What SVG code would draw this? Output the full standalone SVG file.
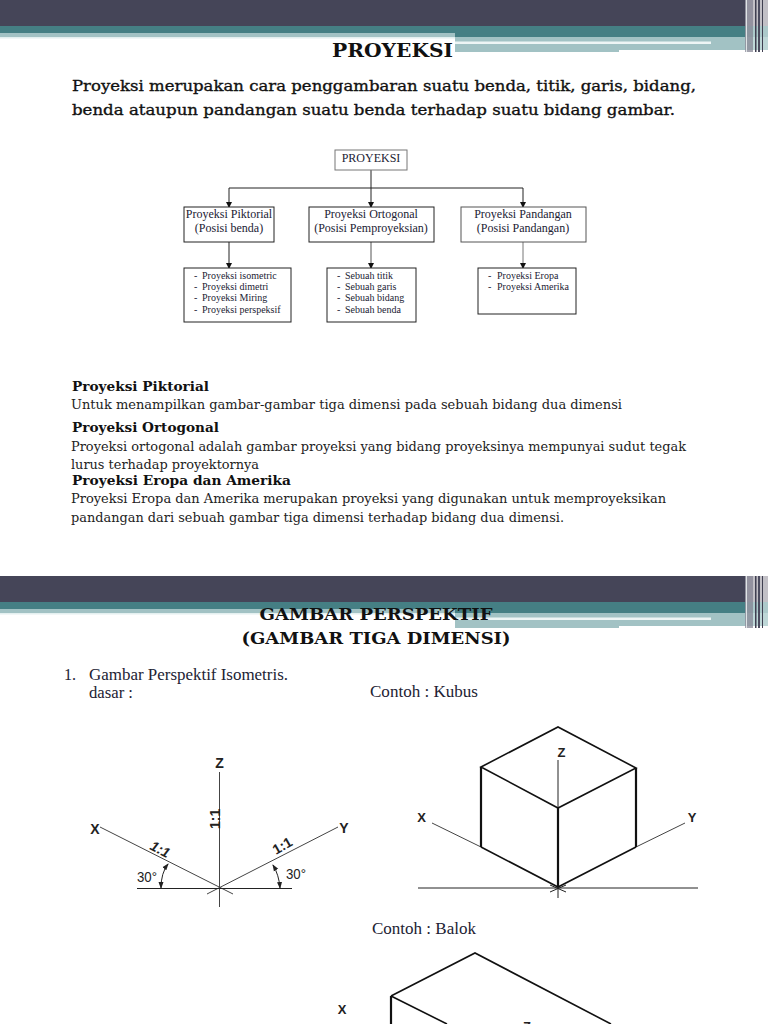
<svg xmlns="http://www.w3.org/2000/svg" width="768" height="1024" viewBox="0 0 768 1024">
<style>
.bt{font-family:"DejaVu Serif","Liberation Serif",serif;font-weight:bold;fill:#111}
.lead{font-family:"DejaVu Serif","Liberation Serif",serif;font-size:15.500px;fill:#111;stroke:#111;stroke-width:.35}
.h{font-family:"DejaVu Serif","Liberation Serif",serif;font-size:13.500px;font-weight:bold;fill:#111}
.p{font-family:"DejaVu Serif","Liberation Serif",serif;font-size:13px;fill:#222}
.ser{font-family:"Liberation Serif",serif;fill:#223}
.box{fill:#fff;stroke:#222;stroke-width:1}
.ln{stroke:#222;stroke-width:1;fill:none}
.ax{stroke:#444;stroke-width:1;fill:none}
.thick{stroke:#111;stroke-width:1.600;fill:none}
.heavy{stroke:#111;stroke-width:2.200;fill:none}
.lab{font-family:"Liberation Sans",sans-serif;font-weight:bold;fill:#222}
.num{font-family:"Liberation Sans",sans-serif;fill:#222}
</style>
<defs>
<marker id="arr" markerWidth="6" markerHeight="6" refX="5" refY="3" orient="auto"><path d="M0,0L6,3L0,6z" fill="#111"/></marker>
<marker id="sm" markerWidth="7" markerHeight="6" refX="6" refY="3" orient="auto-start-reverse"><path d="M0,0.500L7,3L0,5.500z" fill="#222"/></marker>
<g id="band">
<rect x="0" y="0" width="768" height="26" fill="#454558"/>
<rect x="0" y="26" width="768" height="11" fill="#457f84"/>
<rect x="455" y="37" width="164" height="15" fill="#a2c2c4"/>
<rect x="619" y="37" width="149" height="13" fill="#a2c2c4"/>
<rect x="455" y="41.500" width="256" height="2.500" fill="#eef5f5"/>
<rect x="0" y="33" width="455" height="4" fill="#a2c2c4"/>
<rect x="0" y="37" width="455" height="1.500" fill="#e4f0f0"/>
<rect x="745" y="0" width="23" height="26" fill="#c2c0c6"/>
<rect x="745" y="26" width="23" height="24" fill="#c6dcdc" opacity=".8"/>
<rect x="745" y="0" width="8" height="52" fill="#7f7f8e" opacity=".7"/>
<rect x="746" y="0" width="1" height="52" fill="#dfe4e6"/>
<rect x="755" y="0" width="1.500" height="52" fill="#3f3f50"/>
<rect x="758" y="0" width="2" height="52" fill="#4c4c5f"/>
<rect x="762" y="0" width="1" height="52" fill="#3f3f50"/>
</g>
</defs>

<rect width="768" height="1024" fill="#fff"/>
<use href="#band"/>
<use href="#band" y="576"/>

<text class="bt" x="392.500" y="57" font-size="18" text-anchor="middle" textLength="121" lengthAdjust="spacingAndGlyphs">PROYEKSI</text>
<text class="lead" x="72" y="91" textLength="624" lengthAdjust="spacingAndGlyphs">Proyeksi merupakan cara penggambaran suatu benda, titik, garis, bidang,</text>
<text class="lead" x="72" y="115" textLength="603" lengthAdjust="spacingAndGlyphs">benda ataupun pandangan suatu benda terhadap suatu bidang gambar.</text>

<g id="connectors">
<path class="ln" d="M371 170V207" marker-end="url(#arr)"/>
<path class="ln" d="M371 188H229V207" marker-end="url(#arr)"/>
<path class="ln" d="M371 188H523V207" marker-end="url(#arr)"/>
<path class="ln" d="M229 242V268" marker-end="url(#arr)"/>
<path class="ln" d="M371 242V268" style="stroke:#555" marker-end="url(#arr)"/>
<path class="ln" d="M523 242V268" style="stroke:#777" marker-end="url(#arr)"/>
</g>

<g id="n-proyeksi"><rect class="box" x="335" y="150" width="72" height="20" style="stroke:#777"/><text class="ser" x="371" y="162" font-size="12" text-anchor="middle">PROYEKSI</text></g>
<g id="n-piktorial"><rect class="box" x="184" y="207" width="90" height="35"/><text class="ser" x="229" y="218" font-size="12" text-anchor="middle">Proyeksi Piktorial</text><text class="ser" x="229" y="232" font-size="12" text-anchor="middle">(Posisi benda)</text></g>
<g id="n-ortogonal"><rect class="box" x="309" y="207" width="125" height="35"/><text class="ser" x="371" y="218" font-size="12" text-anchor="middle">Proyeksi Ortogonal</text><text class="ser" x="371" y="232" font-size="12" text-anchor="middle">(Posisi Pemproyeksian)</text></g>
<g id="n-pandangan"><rect class="box" x="461" y="207" width="125" height="35" style="stroke:#555"/><text class="ser" x="523" y="218" font-size="12" text-anchor="middle">Proyeksi Pandangan</text><text class="ser" x="523" y="232" font-size="12" text-anchor="middle">(Posisi Pandangan)</text></g>
<g id="n-list1" class="ser" font-size="10"><rect class="box" x="184" y="268" width="107" height="54"/>
<text x="194" y="279">-</text><text x="202" y="279">Proyeksi isometric</text>
<text x="194" y="290">-</text><text x="202" y="290">Proyeksi dimetri</text>
<text x="194" y="301">-</text><text x="202" y="301">Proyeksi Miring</text>
<text x="194" y="313">-</text><text x="202" y="313">Proyeksi perspeksif</text></g>
<g id="n-list2" class="ser" font-size="10"><rect class="box" x="327" y="268" width="89" height="54"/>
<text x="337" y="279">-</text><text x="345" y="279">Sebuah titik</text>
<text x="337" y="290">-</text><text x="345" y="290">Sebuah garis</text>
<text x="337" y="301">-</text><text x="345" y="301">Sebuah bidang</text>
<text x="337" y="313">-</text><text x="345" y="313">Sebuah benda</text></g>
<g id="n-list3" class="ser" font-size="10"><rect class="box" x="478" y="268" width="98" height="46"/>
<text x="488" y="279">-</text><text x="497" y="279">Proyeksi Eropa</text>
<text x="488" y="290">-</text><text x="497" y="290">Proyeksi Amerika</text></g>

<text class="h" x="72" y="391" textLength="137" lengthAdjust="spacingAndGlyphs">Proyeksi Piktorial</text>
<text class="p" x="71" y="409" textLength="551" lengthAdjust="spacingAndGlyphs">Untuk menampilkan gambar-gambar tiga dimensi pada sebuah bidang dua dimensi</text>
<text class="h" x="72" y="432" textLength="147" lengthAdjust="spacingAndGlyphs">Proyeksi Ortogonal</text>
<text class="p" x="71" y="451" textLength="615" lengthAdjust="spacingAndGlyphs">Proyeksi ortogonal adalah gambar proyeksi yang bidang proyeksinya mempunyai sudut tegak</text>
<text class="p" x="71" y="469" textLength="188" lengthAdjust="spacingAndGlyphs">lurus terhadap proyektornya</text>
<text class="h" x="72" y="485" textLength="219" lengthAdjust="spacingAndGlyphs">Proyeksi Eropa dan Amerika</text>
<text class="p" x="71" y="503" textLength="595" lengthAdjust="spacingAndGlyphs">Proyeksi Eropa dan Amerika merupakan proyeksi yang digunakan untuk memproyeksikan</text>
<text class="p" x="71" y="522" textLength="493" lengthAdjust="spacingAndGlyphs">pandangan dari sebuah gambar tiga dimensi terhadap bidang dua dimensi.</text>

<text class="bt" x="376" y="620" font-size="16" text-anchor="middle" textLength="233" lengthAdjust="spacingAndGlyphs">GAMBAR PERSPEKTIF</text>
<text class="bt" x="376" y="644" font-size="16" text-anchor="middle" textLength="269" lengthAdjust="spacingAndGlyphs">(GAMBAR TIGA DIMENSI)</text>
<text class="ser" x="64" y="680" font-size="16">1.</text>
<text class="ser" x="89" y="680" font-size="16" textLength="199" lengthAdjust="spacingAndGlyphs">Gambar Perspektif Isometris.</text>
<text class="ser" x="89" y="698" font-size="16" textLength="44" lengthAdjust="spacingAndGlyphs">dasar :</text>
<text class="ser" x="370" y="697" font-size="16" textLength="108" lengthAdjust="spacingAndGlyphs">Contoh : Kubus</text>
<text class="ser" x="372" y="934" font-size="16" textLength="104" lengthAdjust="spacingAndGlyphs">Contoh : Balok</text>

<g id="iso-axes">
<path class="ax" d="M219.500 772V907M100 827L233 894M338 827L207 894"/>
<path class="ln" d="M137 888.500H292"/>
<path class="ln" d="M161 888Q161 873 168 864" marker-end="url(#sm)" marker-start="url(#sm)"/>
<path class="ln" d="M280 888Q279 875 273 865" marker-end="url(#sm)" marker-start="url(#sm)"/>
<text class="lab" x="219.500" y="768" font-size="14" text-anchor="middle">Z</text>
<text class="lab" x="95" y="834" font-size="14" text-anchor="middle">X</text>
<text class="lab" x="344" y="833" font-size="14" text-anchor="middle">Y</text>
<text class="lab" font-size="14" transform="translate(220,829) rotate(-90)">1:1</text>
<text class="lab" font-size="14" transform="translate(149,849) rotate(27)" font-style="italic">1:1</text>
<text class="lab" font-size="14" transform="translate(276,855) rotate(-30)">1:1</text>
<text class="num" x="137" y="882" font-size="14" textLength="20" lengthAdjust="spacingAndGlyphs">30°</text>
<text class="num" x="286" y="879" font-size="14" textLength="20" lengthAdjust="spacingAndGlyphs">30°</text>
</g>

<g id="kubus">
<path class="ax" d="M432 823L481 847M685 823L636 847"/>
<path class="ln" d="M418 888H698M558 760V898M550 885L566 892M566 885L550 892"/>
<path class="thick" d="M481 767L558 727L636 768L558 808ZM481 847L558 887L636 847"/>
<path class="heavy" d="M481 767V847M636 768V847M558 808V887"/>
<text class="lab" x="561.500" y="757" font-size="13" text-anchor="middle">Z</text>
<text class="lab" x="421.500" y="822" font-size="13" text-anchor="middle">X</text>
<text class="lab" x="692" y="822" font-size="13" text-anchor="middle">Y</text>
</g>

<g id="balok">
<path class="thick" d="M391 996L475 953L611 1024M391 996L447 1024"/>
<path class="heavy" d="M391 996V1024"/>
<text class="lab" x="342" y="1014" font-size="13" text-anchor="middle">X</text>
<text class="lab" x="527" y="1031" font-size="13" text-anchor="middle">Z</text>
</g>
</svg>
